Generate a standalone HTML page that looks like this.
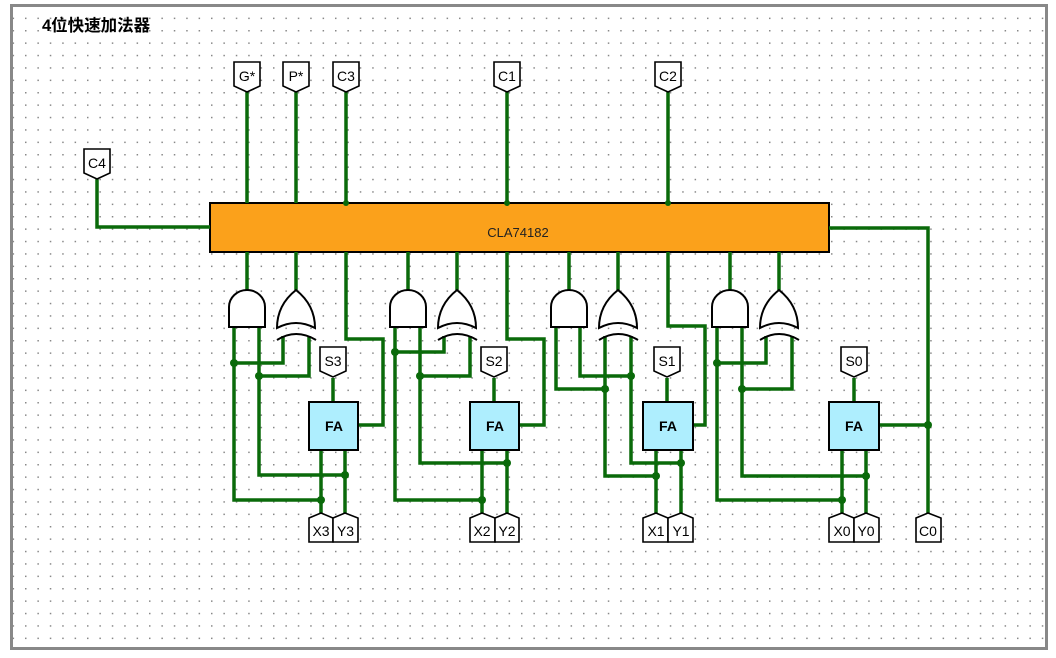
<!DOCTYPE html>
<html><head><meta charset="utf-8"><style>
html,body{margin:0;padding:0;background:#fff;}
svg{display:block;}
text{font-family:"Liberation Sans","Noto Sans CJK SC",sans-serif;}
</style></head><body>
<svg width="1056" height="658" viewBox="0 0 1056 658" xmlns="http://www.w3.org/2000/svg">
<defs>
<pattern id="g" x="25" y="30" width="12.4" height="12.4" patternUnits="userSpaceOnUse">
<rect x="0" y="0" width="1.5" height="1.5" fill="#888"/>
</pattern>
</defs>
<rect x="0" y="0" width="1056" height="658" fill="#fff"/>
<rect x="12" y="6" width="1034" height="642" fill="url(#g)"/>
<rect x="11.5" y="5.5" width="1035" height="643" fill="none" stroke="#888" stroke-width="3"/>
<text x="42" y="31" font-size="16.5" font-weight="bold" fill="#000">4位快速加法器</text>

<rect x="210" y="203" width="619" height="49" fill="#fba11b" stroke="#000" stroke-width="2"/>
<text x="518" y="237" font-size="13" text-anchor="middle" fill="#222">CLA74182</text>

<g fill="none" stroke="#0a6a0a" stroke-width="3.5" stroke-linejoin="miter">
<path d="M247 91V203M296 91V203M346 91V203M507 91V203M668 91V203M97 178V227H210"/>
<path d="M247 252V290M296 252V290M408 252V290M457 252V290M569 252V290M618 252V290M730 252V290M779 252V290"/>
<path d="M234 327V500H321M234 363H283V336M259 327V475H345M259 376H309V336M346 252V339H383V425H358M333 378V402M321 450V515M345 450V515"/>
<path d="M395 327V500H482M395 352H444V336M420 327V463H507M420 376H470V336M507 252V339H544V425H519M494 378V402M482 450V515M507 450V515"/>
<path d="M556 327V389H605M605 336V476H656M580 327V376H631M631 336V463H681M668 252V326H705V425H693M667 378V402M656 450V515M681 450V515"/>
<path d="M717 327V500H842M717 363H766V336M742 327V476H866M742 389H792V336M829 228H928V515M879 425H928M854 378V402M842 450V515M866 450V515"/>
</g>
<g fill="#0a6a0a">
<circle cx="234" cy="363" r="4"/><circle cx="259" cy="376" r="4"/><circle cx="321" cy="500" r="4"/><circle cx="345" cy="475" r="4"/>
<circle cx="395" cy="352" r="4"/><circle cx="420" cy="376" r="4"/><circle cx="482" cy="500" r="4"/><circle cx="507" cy="463" r="4"/>
<circle cx="605" cy="389" r="4"/><circle cx="631" cy="376" r="4"/><circle cx="656" cy="476" r="4"/><circle cx="681" cy="463" r="4"/>
<circle cx="717" cy="363" r="4"/><circle cx="742" cy="389" r="4"/><circle cx="842" cy="500" r="4"/><circle cx="866" cy="476" r="4"/><circle cx="928" cy="425" r="4"/>
<circle cx="346" cy="203" r="3"/><circle cx="507" cy="203" r="3"/><circle cx="668" cy="203" r="3"/>
</g>

<g fill="#fff" stroke="#000" stroke-width="2">
<path d="M229 327V307A18 17 0 0 1 265 307V327Z"/>
<path d="M390 327V307A18 17 0 0 1 426 307V327Z"/>
<path d="M551 327V307A18 17 0 0 1 587 307V327Z"/>
<path d="M712 327V307A18 17 0 0 1 748 307V327Z"/>
<path d="M277 328Q277 305 296 290Q315 305 315 328Q296 318 277 328Z"/>
<path d="M438 328Q438 305 457 290Q476 305 476 328Q457 318 438 328Z"/>
<path d="M599 328Q599 305 618 290Q637 305 637 328Q618 318 599 328Z"/>
<path d="M760 328Q760 305 779 290Q798 305 798 328Q779 318 760 328Z"/>
</g>
<g fill="none" stroke="#000" stroke-width="2">
<path d="M277 340Q296 328 316 340M438 340Q457 328 477 340M599 340Q618 328 638 340M760 340Q779 328 799 340"/>
</g>

<g fill="#aeeefe" stroke="#000" stroke-width="2">
<rect x="309" y="402" width="49" height="48"/>
<rect x="470" y="402" width="49" height="48"/>
<rect x="643" y="402" width="50" height="48"/>
<rect x="829" y="402" width="50" height="48"/>
</g>
<g font-size="14" font-weight="bold" text-anchor="middle" fill="#000">
<text x="334" y="431">FA</text><text x="495" y="431">FA</text><text x="668" y="431">FA</text><text x="854" y="431">FA</text>
</g>

<g fill="#fff" stroke="#000" stroke-width="1.6">
<path d="M234 62H260V86L247 92L234 86Z"/>
<path d="M283 62H309V86L296 92L283 86Z"/>
<path d="M333 62H359V86L346 92L333 86Z"/>
<path d="M494 62H520V86L507 92L494 86Z"/>
<path d="M655 62H681V86L668 92L655 86Z"/>
<path d="M84 149H110V173L97 179L84 173Z"/>
<path d="M320 347H346V371L333 377L320 371Z"/>
<path d="M481 347H507V371L494 377L481 371Z"/>
<path d="M654 347H680V371L667 377L654 371Z"/>
<path d="M841 347H867V371L854 377L841 371Z"/>
<path d="M309 518L321 513L333 518V542H309Z"/>
<path d="M333 518L345 513L358 518V542H333Z"/>
<path d="M470 518L482 513L495 518V542H470Z"/>
<path d="M495 518L507 513L519 518V542H495Z"/>
<path d="M643 518L656 513L668 518V542H643Z"/>
<path d="M668 518L681 513L693 518V542H668Z"/>
<path d="M829 518L842 513L854 518V542H829Z"/>
<path d="M854 518L866 513L879 518V542H854Z"/>
<path d="M916 518L928 513L941 518V542H916Z"/>
</g>
<g font-size="14" text-anchor="middle" fill="#000">
<text x="247" y="81">G*</text><text x="296" y="81">P*</text><text x="346" y="81">C3</text>
<text x="507" y="81">C1</text><text x="668" y="81">C2</text><text x="97" y="168">C4</text>
<text x="333" y="366">S3</text><text x="494" y="366">S2</text><text x="667" y="366">S1</text><text x="854" y="366">S0</text>
<text x="321" y="536">X3</text><text x="345.5" y="536">Y3</text>
<text x="482" y="536">X2</text><text x="507" y="536">Y2</text>
<text x="656" y="536">X1</text><text x="681" y="536">Y1</text>
<text x="842" y="536">X0</text><text x="866" y="536">Y0</text>
<text x="928" y="536">C0</text>
</g>
</svg>
</body></html>
